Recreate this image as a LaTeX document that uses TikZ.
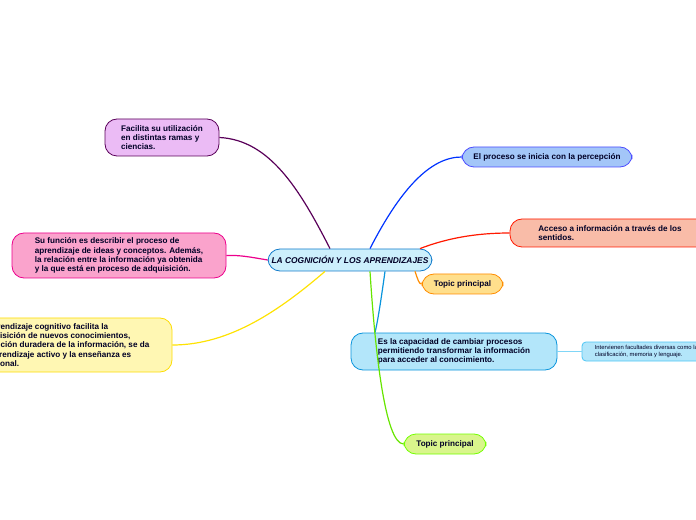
\documentclass[tikz,border=0pt]{standalone}
\usepackage{fontspec}
\setmainfont{Liberation Sans}
\definecolor{vio}{HTML}{EBBBF5}\definecolor{pnk}{HTML}{FAA3CC}\definecolor{yel}{HTML}{FFF7B3}
\definecolor{blu}{HTML}{A3C6F8}\definecolor{sal}{HTML}{F9BCA8}\definecolor{org}{HTML}{FFDF8C}
\definecolor{lbl}{HTML}{B3E6FA}\definecolor{grn}{HTML}{D9F58C}
\begin{document}
\begin{tikzpicture}[x=0.75pt,y=-0.75pt,
 box/.style={draw,rounded corners=9pt,font=\fontsize{6.1}{6.9}\selectfont\bfseries,text=black!85!blue,align=left,inner sep=0pt,line width=0.6pt},
 con/.style={line width=0.9pt}]
\useasboundingbox (0,0) rectangle (696,520);
\clip (0,0) rectangle (696,520);
\node[box,fill=cyan!20,draw=cyan!60!blue,minimum width=164*0.75pt,minimum height=22*0.75pt,align=center,font=\fontsize{6.3}{7}\selectfont\bfseries\itshape\rmfamily] (c) at (350,260) {LA COGNICIÓN Y LOS APRENDIZAJES};
\node[box,fill=vio,draw=violet!70!black,minimum width=114*0.75pt,minimum height=37*0.75pt] (f) at (162,137.5) {Facilita su utilización\\en distintas ramas y\\ciencias.};
\node[box,fill=pnk,draw=magenta,minimum width=214*0.75pt,minimum height=45*0.75pt] (s) at (119,255.5) {Su función es describir el proceso de\\aprendizaje de ideas y conceptos. Además,\\la relación entre la información ya obtenida\\y la que está en proceso de adquisición.};
\node[box,fill=yel,draw=yellow!80!orange,minimum width=214*0.75pt,minimum height=54*0.75pt] (y) at (65,345) {\hspace*{-2pt}El aprendizaje cognitivo facilita la\\adquisición de nuevos conocimientos,\\retención duradera de la información, se da\\el aprendizaje activo y la enseñanza es\\funcional.};
\node[box,fill=blu,draw=blue!70,minimum width=170*0.75pt,minimum height=20*0.75pt] (p) at (547,157) {El proceso se inicia con la percepción};
\node[box,fill=sal,draw=red!80!orange,minimum width=200*0.75pt,minimum height=28*0.75pt] (a) at (610,233) {Acceso a información a través de los\\sentidos.\hspace*{70pt}};
\node[box,fill=org,draw=orange!90!yellow,minimum width=81*0.75pt,minimum height=20*0.75pt,align=center] (t1) at (462.5,284) {Topic principal};
\node[box,fill=lbl,draw=cyan!80!blue,minimum width=206*0.75pt,minimum height=37*0.75pt] (e) at (454,351.5) {Es la capacidad de cambiar procesos\\permitiendo transformar la información\\para acceder al conocimiento.};
\node[box,fill=lbl,draw=cyan!70,rounded corners=3pt,minimum width=140*0.75pt,minimum height=19*0.75pt,font=\fontsize{4.4}{5.2}\selectfont] (i) at (652,351.5) {Intervienen facultades diversas como la\\clasificación, memoria y lenguaje.\hspace*{20pt}};
\node[box,fill=grn,draw=lime!60!green,minimum width=82*0.75pt,minimum height=20*0.75pt,align=center] (t2) at (445,444) {Topic principal};
\draw[con,violet!70!black] ([xshift=-20*0.75pt]c.north) .. controls (300,190) and (270,140) .. (f.east);
\draw[con,magenta] (c.west) .. controls (250,257) and (240,255) .. (s.east);
\draw[con,yellow!85!orange] ([xshift=-25*0.75pt]c.south) .. controls (280,310) and (230,345) .. (y.east);
\draw[con,blue!80!cyan] ([xshift=20*0.75pt]c.north) .. controls (400,190) and (430,157) .. (p.west);
\draw[con,red!80!orange] ([xshift=70*0.75pt]c.north) .. controls (450,237) and (480,233) .. (a.west);
\draw[con,orange!90!yellow] ([xshift=65*0.75pt]c.south) .. controls (418,280) and (419,284) .. (t1.west);
\draw[con,cyan!80!blue] ([xshift=35*0.75pt]c.south) .. controls (381,300) and (378,320) .. ([xshift=-79*0.75pt]e.north);
\draw[con,lime!60!green!90!black] ([xshift=20*0.75pt]c.south) .. controls (375,350) and (385,444) .. (t2.west);
\draw[cyan!50,line width=0.5pt] (e.east) -- (i.west);
\end{tikzpicture}
\end{document}
